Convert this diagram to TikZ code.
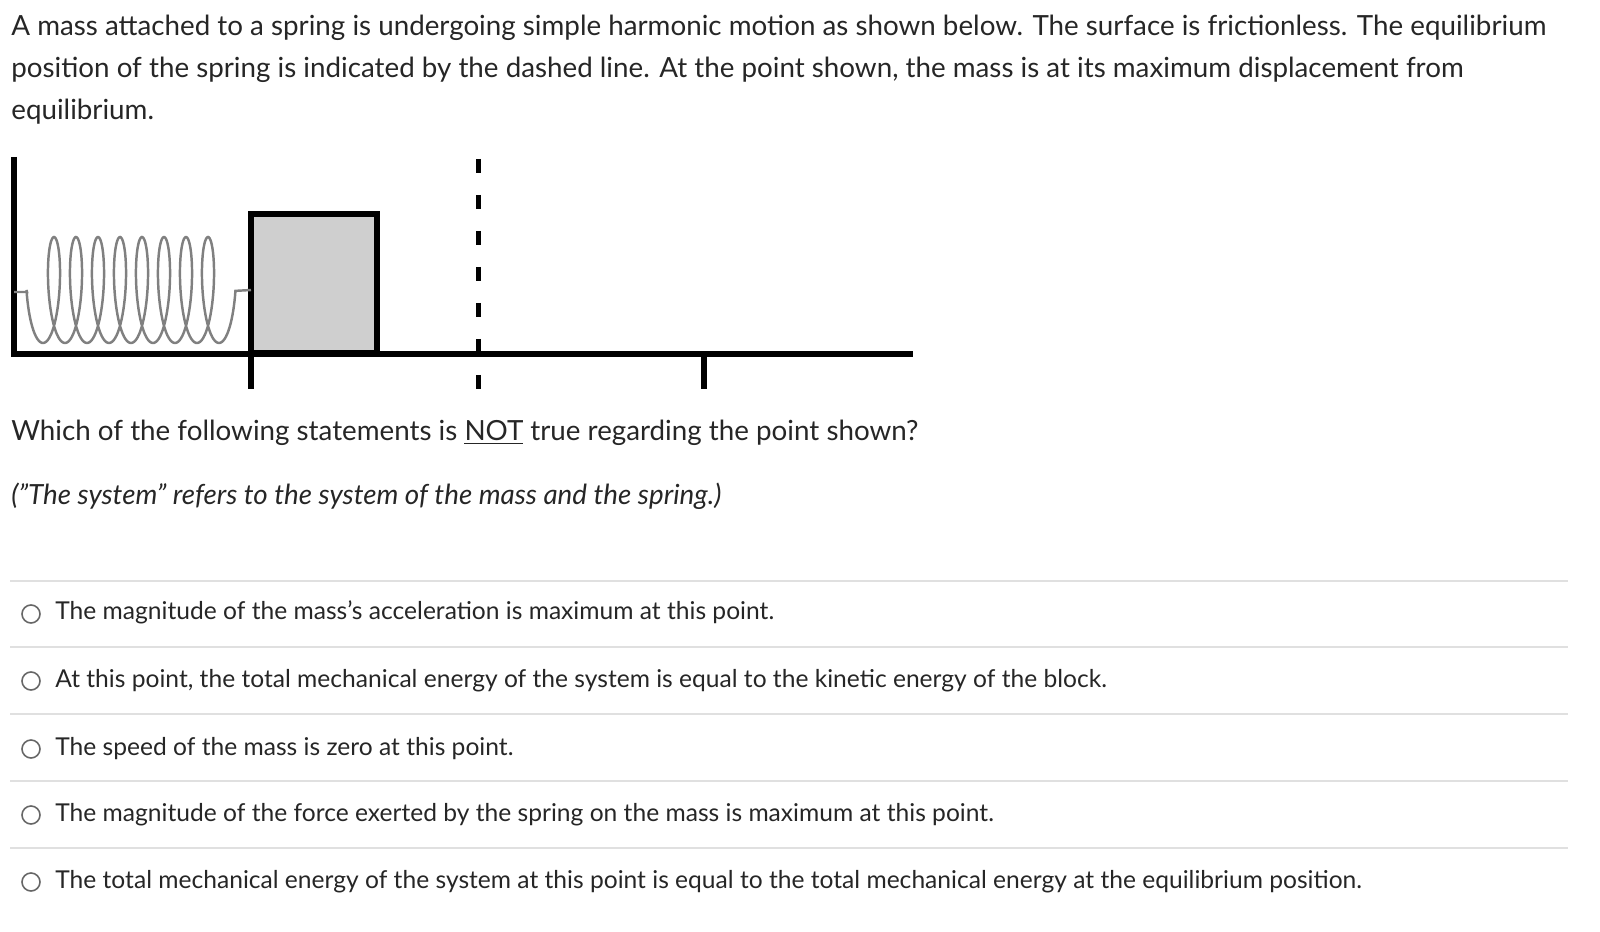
\documentclass[tikz,border=0pt]{standalone}
\usepackage{fontspec}
\setmainfont{Lato}
\begin{document}
\begin{tikzpicture}[x=0.02cm,y=-0.02cm,
  txt/.style={anchor=base west,inner sep=0pt,font=\fontsize{15.8pt}{18pt}\selectfont,text=black!85},
  opt/.style={anchor=base west,inner sep=0pt,font=\fontsize{14pt}{17pt}\selectfont,text=black!85},
  thk/.style={line width=0.11cm},
  sep/.style={draw=black!12,line width=0.8pt},
  radio/.style={draw=black!60,line width=0.9pt}]
\useasboundingbox (0,0) rectangle (1600,932);
\node[txt] (t1) at (11,36) {A mass attached to a spring is undergoing simple harmonic motion as shown below. The surface is frictionless. The equilibrium};
\node[txt] (t2) at (11,78) {position of the spring is indicated by the dashed line. At the point shown, the mass is at its maximum displacement from};
\node[txt] (t3) at (11,120) {equilibrium.};
% diagram
\draw[thk] (14,157) -- (14,354) -- (913,354);
\draw[thk,fill=black!19] (251,214) rectangle (377,353);
\draw[thk] (251,354) -- (251,389);
\draw[thk] (704,354) -- (704,389);
\draw[line width=0.1cm,dash pattern=on 0.28cm off 0.44cm] (478,159) -- (478,389);
\draw[draw=black!50,line width=1.4pt] (14,292) -- (27,292)
  -- plot[domain=-0.25:8.25,samples=500] ({43+22*\x+11*sin(\x*360)},{290+53*cos(\x*360)}) -- (251,290);
\node[txt] (q) at (11,441) {Which of the following statements is \underline{NOT} true regarding the point shown?};
\node[txt] (q2) at (11,505) {\itshape (\symbol{34}The system\symbol{34} refers to the system of the mass and the spring.)};
\foreach \y in {581,647,714,781,848} \draw[sep] (10,\y) -- (1568,\y);
\foreach \y in {612,679,747,813,880} \draw[radio] (31,\y+2) circle (9);
\node[opt] (oa) at (55,620) {The magnitude of the mass\symbol{39}s acceleration is maximum at this point.};
\node[opt] (ob) at (55,687) {At this point, the total mechanical energy of the system is equal to the kinetic energy of the block.};
\node[opt] (oc) at (55,755) {The speed of the mass is zero at this point.};
\node[opt] (od) at (55,821) {The magnitude of the force exerted by the spring on the mass is maximum at this point.};
\node[opt] (oe) at (55,888) {The total mechanical energy of the system at this point is equal to the total mechanical energy at the equilibrium position.};
\end{tikzpicture}
\end{document}
